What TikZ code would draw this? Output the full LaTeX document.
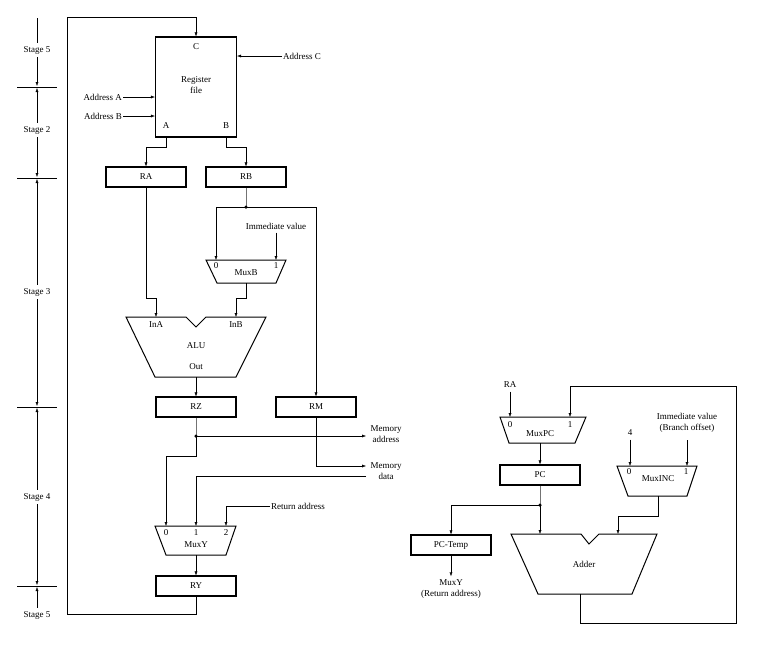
\documentclass[tikz,border=0pt]{standalone}
\usepackage{fontspec}
\setmainfont{Liberation Serif}
\usetikzlibrary{arrows.meta,positioning}
\definecolor{wiregray}{rgb}{0.45,0.45,0.45}
\begin{document}
\begin{tikzpicture}[x=1pt,y=-1pt,
		font=\fontsize{9}{10.5}\selectfont,
		reg/.style={draw, line width=1.1pt, minimum width=80pt, minimum height=20pt, inner sep=0pt},
		muxShape/.style={draw, line width=1pt},
		wire/.style={draw=wiregray, thin},
		arrow/.style={wire, -{Latex[length=4pt,width=3pt]}, black},
		dot/.style={circle, fill=black, inner sep=0pt, minimum size=3.5pt},
		stage/.style={thin, black},
		lbl/.style={inner sep=1pt}]
		\useasboundingbox (0,0) rectangle (776,651);
		
		% stage scale
		\foreach \y in {87, 178, 407, 586}
		{\draw [stage] (17,\y) -- (57,\y);}
		\node (s5a) at (37,50) {Stage 5};
		\node (s2) at (37,130) {Stage 2};
		\node (s3) at (37,292) {Stage 3};
		\node (s4) at (37,497) {Stage 4};
		\node (s5b) at (37,615) {Stage 5};
		\draw [stage] (37,18) -- (s5a);
		\draw [stage, -{Latex[length=4pt,width=3pt]}] (s5a) -- (37,86);
		\draw [stage, -{Latex[length=4pt,width=3pt]}] (s2) -- (37,88);
		\draw [stage, -{Latex[length=4pt,width=3pt]}] (s2) -- (37,177);
		\draw [stage, -{Latex[length=4pt,width=3pt]}] (s3) -- (37,179);
		\draw [stage, -{Latex[length=4pt,width=3pt]}] (s3) -- (37,406);
		\draw [stage, -{Latex[length=4pt,width=3pt]}] (s4) -- (37,408);
		\draw [stage, -{Latex[length=4pt,width=3pt]}] (s4) -- (37,585);
		\draw [stage, -{Latex[length=4pt,width=3pt]}] (s5b) -- (37,587);
		
		% register file
		\node [draw, line width=1.1pt, minimum width=81pt, minimum height=100pt, inner sep=0pt] (rf) at (196,87) {};
		\node (rfC) at (196,47) {C};
		\node [align=center] (rfT) at (196,85) {Register\\file};
		\node (rfA) at (166,126) {A};
		\node (rfB) at (226,126) {B};
		\node [lbl, anchor=west] (adC) at (282,56) {Address C};
		\node [lbl, anchor=east] (adA) at (123,97) {Address A};
		\node [lbl, anchor=east] (adB) at (123,116) {Address B};
		\draw [arrow] (adC.west) -- (rf.east |- adC.west);
		\draw [arrow] (adA.east) -- (rf.west |- adA.east);
		\draw [arrow] (adB.east) -- (rf.west |- adB.east);
		
		% pipeline registers
		\node [reg] (ra) at (146,177) {RA};
		\node [reg] (rb) at (246,177) {RB};
		\node [reg] (rz) at (196,407) {RZ};
		\node [reg] (rm) at (316,407) {RM};
		\node [reg] (ry) at (196,586) {RY};
		\node [reg] (pc) at (540,475) {PC};
		\node [reg] (pct) at (451,545) {PC-Temp};
		
		\draw [arrow] (166,137) -- (166,147) -- (146,147) -- (ra.north);
		\draw [arrow] (226,137) -- (226,147) -- (246,147) -- (rb.north);
		
		% MuxB
		\draw [muxShape] (206,260) -- (286,260) -- (276,283) -- (217,283) -- cycle;
		\coordinate (mbIn0) at (216,260);
		\coordinate (mbIn1) at (276,260);
		\coordinate (mbOut) at (246,283);
		\node (mb0) at (216,266) {0};
		\node (mb1) at (276,266) {1};
		\node (mbT) at (246,273) {MuxB};
		\node (imm) at (276,226) {Immediate value};
		\coordinate (d1) at (246,207);
		\draw [wire] (rb.south) -- (d1);
		\draw [arrow] (d1) -- (216,207) -- (mbIn0);
		\draw [arrow] (d1) -- (316,207) -- (rm.north);
		\draw [arrow] (imm.south) -- (mbIn1);
		\node [dot] at (d1) {};
		
		% ALU
		\draw [muxShape] (126,317) -- (186,317) -- (196,327) -- (206,317) -- (266,317) -- (236,377) -- (155,377) -- cycle;
		\node (inA) at (156,325) {InA};
		\node (inB) at (236,325) {InB};
		\node (aluT) at (196,346) {ALU};
		\node (out) at (196,367) {Out};
		\draw [arrow] (ra.south) -- (146,298) -- (156,298) -- (156,317);
		\draw [arrow] (mbOut) -- (246,298) -- (236,298) -- (236,317);
		\draw [arrow] (196,377) -- (rz.north);
		
		% memory
		\coordinate (d2) at (196,436);
		\node [align=center, lbl] (memA) at (386,434) {Memory\\address};
		\node [align=center, lbl] (memD) at (386,471) {Memory\\data};
		\coordinate (memAin) at (366,436);
		\coordinate (memDin) at (366,466);
		\draw [wire] (rz.south) -- (d2);
		\draw [arrow] (d2) -- (memAin);
		\draw [arrow] (rm.south) -- (316,466) -- (memDin);
		
		% MuxY
		\draw [muxShape] (155,526) -- (236,526) -- (226,555) -- (166,555) -- cycle;
		\node (my0) at (166,533) {0};
		\node (my1) at (196,533) {1};
		\node (my2) at (226,533) {2};
		\node (myT) at (196,545) {MuxY};
		\node [lbl, anchor=west] (ret) at (270,506) {Return address};
		\draw [arrow] (d2) -- (196,456) -- (166,456) -- (166,526);
		\draw [arrow] (366,476) -- (196,476) -- (196,526);
		\draw [arrow] (ret.west) -- (226,506) -- (226,526);
		\draw [arrow] (196,555) -- (ry.north);
		\draw [arrow] (ry.south) -- (196,614) -- (67,614) -- (67,17) -- (196,17) -- (rf.north);
		\node [dot] at (d2) {};
		
		% MuxPC
		\draw [muxShape] (500,417) -- (586,417) -- (575,443) -- (509,443) -- cycle;
		\node (mp0) at (510,425) {0};
		\node (mp1) at (570,425) {1};
		\node (mpT) at (540,434) {MuxPC};
		\node (raIn) at (510,385) {RA};
		\draw [arrow] (raIn.south) -- (510,417);
		\draw [arrow] (540,443) -- (pc.north);
		
		% MuxINC
		\draw [muxShape] (617,466) -- (697,466) -- (687,496) -- (628,496) -- cycle;
		\node (mi0) at (629,472) {0};
		\node (mi1) at (686,472) {1};
		\node (miT) at (658,479) {MuxINC};
		\node (four) at (630,433) {4};
		\node [align=center] (immB) at (687,423) {Immediate value\\(Branch offset)};
		\draw [arrow] (four.south) -- (630,466);
		\draw [arrow] (687,440) -- (687,466);
		
		% Adder
		\draw [muxShape] (511,534) -- (581,534) -- (589,544) -- (599,534) -- (657,534) -- (632,594) -- (538,594) -- cycle;
		\node (addT) at (584,564) {Adder};
		\coordinate (d3) at (540,505);
		\draw [wire] (pc.south) -- (d3);
		\draw [arrow] (d3) -- (540,534);
		\draw [arrow] (d3) -- (451,505) -- (pct.north);
		\node [dot] at (d3) {};
		\draw [arrow] (658,496) -- (658,516) -- (618,516) -- (618,534);
		\draw [arrow] (580,594) -- (580,623) -- (736,623) -- (736,386) -- (570,386) -- (570,417);
		\node [align=center] (myRet) at (451,589) {MuxY\\(Return address)};
		\draw [arrow] (pct.south) -- (myRet.north);
	\end{tikzpicture}
\end{document}
